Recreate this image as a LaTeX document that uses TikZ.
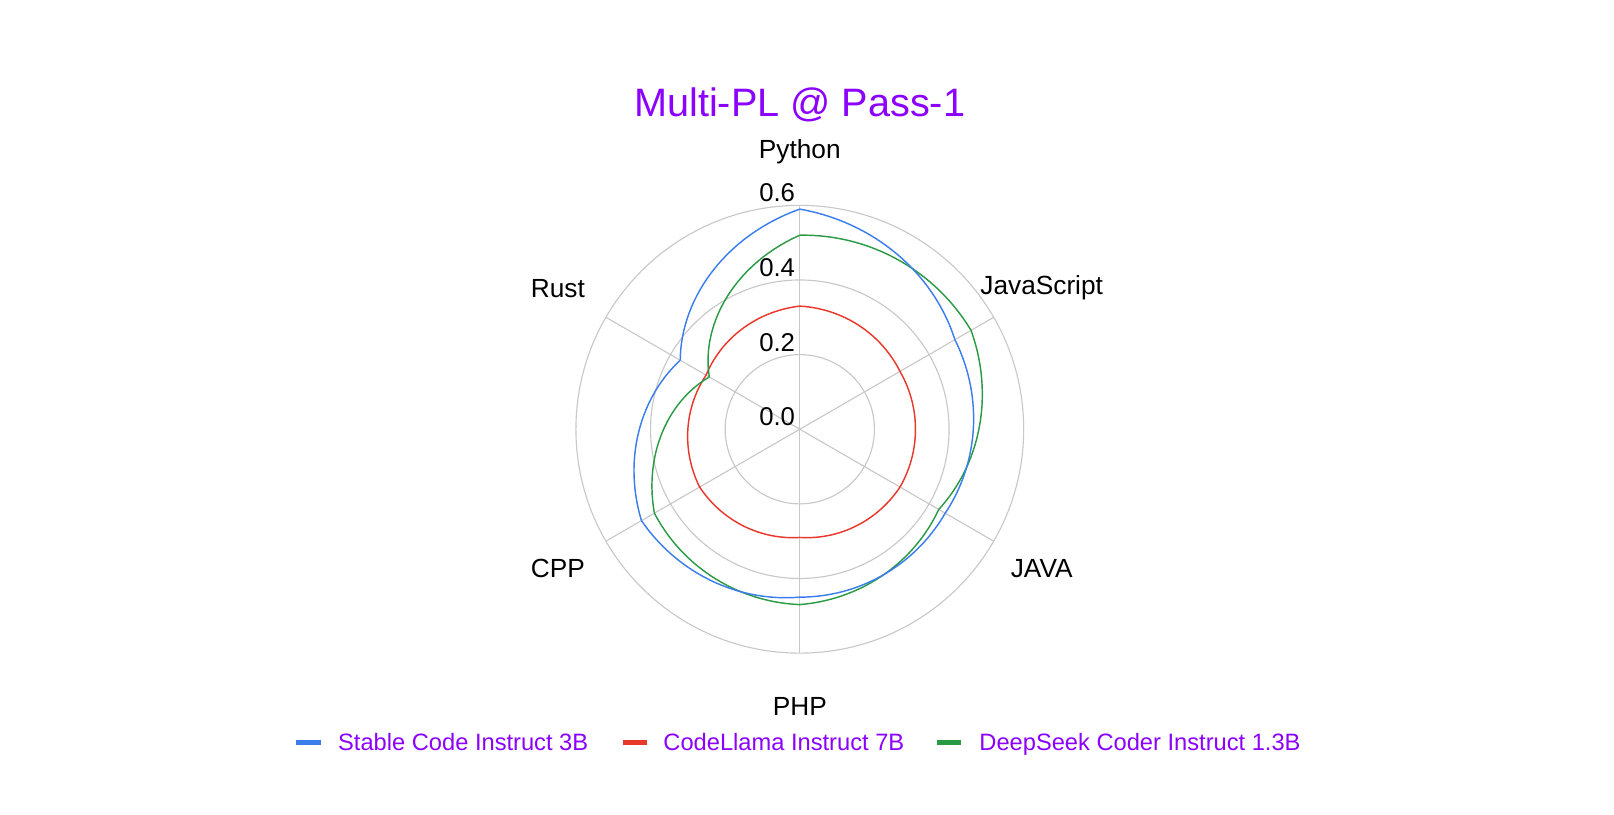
\documentclass[tikz,border=0pt]{standalone}
\usepackage{fontspec}
\setmainfont{Liberation Sans}
\usetikzlibrary{positioning}
\tikzset{% default arrow tips
    >=latex
}
\definecolor{ttl}{HTML}{8B00FF}
\definecolor{sblue}{HTML}{3B7DED}
\definecolor{sred}{HTML}{E8372B}
\definecolor{sgreen}{HTML}{2A9A45}
\definecolor{grd}{HTML}{C8C8C8}
\tikzset{
    grid line/.style={grd, line width=1.1pt},
    ax label/.style={font=\fontsize{25.5}{26}\selectfont},
    tick label/.style={font=\fontsize{25}{25}\selectfont},
    series/.style={line width=1.4pt},
    leg text/.style={ttl, anchor=base west, font=\fontsize{23}{23}\selectfont},
}
% one series: six radii, clockwise from Python
\newcommand{\radarline}[7]{%
    \foreach \ra/\rb [count=\k from 0] in {#2/#3,#3/#4,#4/#5,#5/#6,#6/#7,#7/#2}
        \draw[series,#1] plot[domain=0:60, samples=30, shift={(o)}]
            ({90-60*\k-\x}:{(\ra+(\rb-\ra)*\x/60)*362.5});
}
\begin{document}
\begin{tikzpicture}[x=1pt,y=1pt]
    \useasboundingbox (0,0) rectangle (1568,-791);
    \coordinate (o) at (777,-417);

    % title
    \node[ttl, font=\fontsize{38.5}{39}\selectfont] (title) at (777,-102) {Multi-PL @ Pass-1};

    % grid
    \foreach \r in {72.5,145,217.5}
        \draw[grid line] (o) circle (\r);
    \foreach \ang in {90,30,-30,-90,-150,150}
        \draw[grid line] (o) -- ++(\ang:217.5);

    % tick labels
    \foreach \v [count=\j from 0] in {0.0,0.2,0.4,0.6}
        \node[tick label] (tick\j) at (755,-405+72.5*\j) {\v};

    % axis labels
    \node[ax label] (python) at (777,-147) {Python};
    \node[ax label] (js) at (1012,-280) {JavaScript};
    \node[ax label] (java) at (1012,-552) {JAVA};
    \node[ax label] (php) at (777,-686) {PHP};
    \node[ax label] (cpp) at (542,-552) {CPP};
    \node[ax label] (rust) at (542,-280) {Rust};

    % series
    \radarline{sred}{0.33}{0.31}{0.31}{0.29}{0.31}{0.29}
    \radarline{sgreen}{0.52}{0.53}{0.43}{0.47}{0.45}{0.28}
    \radarline{sblue}{0.59}{0.48}{0.45}{0.45}{0.49}{0.37}

    % legend
    \coordinate (lb) at (288,-721);
    \draw[sblue, line width=5pt] (lb) -- ++(24,0);
    \node[leg text] (leg1) at (325,-729) {Stable Code Instruct 3B};
    \coordinate (lr) at (605,-721);
    \draw[sred, line width=5pt] (lr) -- ++(24,0);
    \node[leg text] (leg2) at (641,-729) {CodeLlama Instruct 7B};
    \coordinate (lg) at (910,-721);
    \draw[sgreen, line width=5pt] (lg) -- ++(24,0);
    \node[leg text] (leg3) at (948,-729) {DeepSeek Coder Instruct 1.3B};
\end{tikzpicture}
\end{document}
